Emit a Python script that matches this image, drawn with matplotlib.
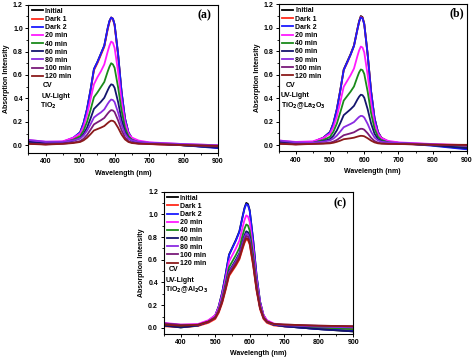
import matplotlib
matplotlib.use("Agg")
import matplotlib.pyplot as plt
import matplotlib.transforms as mtransforms
from matplotlib.ticker import MultipleLocator

plt.rcParams['font.family'] = ['Liberation Sans', 'DejaVu Sans']
plt.rcParams['font.weight'] = 'bold'

# wavelength grid (nm)
wavelength = [350, 400, 450, 480, 500, 510, 520, 530, 540, 550, 560, 570, 580,
              585, 590, 595, 600, 610, 620, 630, 640, 650, 670, 700, 800, 900]

labels = ['Initial', 'Dark 1', 'Dark 2', '20 min', '40 min', '60 min',
          '80 min', '100 min', '120 min']

# panel (a) TiO2
spec_a = [
    [0.03, 0.015, 0.03, 0.06, 0.11, 0.19, 0.31, 0.47, 0.65, 0.71, 0.78, 0.85, 1.00, 1.06, 1.09, 1.08, 1.03, 0.78, 0.46, 0.23, 0.11, 0.06, 0.03, 0.02, 0.0, -0.02],
    [0.015, 0.008, 0.02, 0.055, 0.10, 0.18, 0.30, 0.46, 0.64, 0.70, 0.77, 0.84, 0.99, 1.05, 1.09, 1.08, 1.02, 0.77, 0.45, 0.22, 0.10, 0.05, 0.02, 0.01, 0.0, -0.01],
    [0.035, 0.018, 0.028, 0.065, 0.11, 0.19, 0.31, 0.47, 0.65, 0.71, 0.78, 0.85, 1.00, 1.06, 1.09, 1.08, 1.03, 0.78, 0.46, 0.23, 0.11, 0.06, 0.03, 0.02, 0.0, -0.025],
    [0.045, 0.03, 0.034, 0.064, 0.10, 0.16, 0.26, 0.39, 0.52, 0.58, 0.63, 0.69, 0.80, 0.85, 0.885, 0.875, 0.83, 0.63, 0.38, 0.20, 0.10, 0.065, 0.04, 0.025, 0.01, 0.0],
    [0.02, 0.012, 0.022, 0.046, 0.077, 0.125, 0.20, 0.30, 0.41, 0.45, 0.495, 0.54, 0.63, 0.67, 0.70, 0.69, 0.66, 0.495, 0.30, 0.15, 0.077, 0.046, 0.025, 0.018, 0.0, -0.015],
    [0.03, 0.015, 0.02, 0.038, 0.06, 0.096, 0.15, 0.227, 0.31, 0.34, 0.37, 0.405, 0.47, 0.50, 0.52, 0.515, 0.49, 0.37, 0.22, 0.116, 0.06, 0.038, 0.023, 0.018, 0.0, -0.02],
    [0.045, 0.03, 0.029, 0.041, 0.058, 0.083, 0.124, 0.178, 0.237, 0.26, 0.28, 0.306, 0.354, 0.375, 0.39, 0.386, 0.368, 0.28, 0.175, 0.098, 0.058, 0.041, 0.03, 0.022, 0.01, 0.0],
    [0.015, 0.008, 0.013, 0.023, 0.036, 0.056, 0.088, 0.132, 0.178, 0.196, 0.213, 0.233, 0.271, 0.288, 0.30, 0.297, 0.283, 0.213, 0.129, 0.068, 0.036, 0.023, 0.014, 0.011, 0.0, -0.01],
    [0.012, 0.006, 0.012, 0.019, 0.028, 0.042, 0.064, 0.094, 0.126, 0.138, 0.15, 0.164, 0.19, 0.202, 0.21, 0.208, 0.198, 0.15, 0.092, 0.05, 0.028, 0.019, 0.013, 0.011, 0.002, -0.005],
]

# panel (b) TiO2@La2O3
spec_b = [
    [0.03, 0.015, 0.026, 0.064, 0.113, 0.19, 0.31, 0.47, 0.645, 0.71, 0.775, 0.85, 0.99, 1.057, 1.10, 1.09, 1.035, 0.775, 0.46, 0.232, 0.113, 0.064, 0.03, 0.02, 0.0, -0.03],
    [0.015, 0.008, 0.02, 0.058, 0.107, 0.183, 0.30, 0.465, 0.64, 0.70, 0.77, 0.845, 0.985, 1.05, 1.095, 1.085, 1.03, 0.77, 0.455, 0.227, 0.108, 0.06, 0.026, 0.015, 0.0, -0.01],
    [0.035, 0.018, 0.028, 0.062, 0.11, 0.186, 0.305, 0.465, 0.64, 0.705, 0.77, 0.845, 0.985, 1.05, 1.09, 1.08, 1.03, 0.77, 0.455, 0.23, 0.11, 0.06, 0.03, 0.02, -0.005, -0.035],
    [0.04, 0.028, 0.033, 0.062, 0.098, 0.155, 0.245, 0.367, 0.498, 0.547, 0.596, 0.653, 0.759, 0.807, 0.84, 0.832, 0.791, 0.596, 0.359, 0.188, 0.098, 0.062, 0.037, 0.024, 0.01, 0.0],
    [0.02, 0.012, 0.021, 0.043, 0.072, 0.116, 0.185, 0.28, 0.38, 0.418, 0.456, 0.50, 0.582, 0.62, 0.645, 0.639, 0.607, 0.456, 0.273, 0.141, 0.072, 0.043, 0.024, 0.018, 0.0, -0.02],
    [0.03, 0.015, 0.019, 0.034, 0.052, 0.081, 0.127, 0.189, 0.256, 0.281, 0.306, 0.335, 0.389, 0.413, 0.43, 0.426, 0.405, 0.306, 0.185, 0.098, 0.052, 0.034, 0.021, 0.017, 0.0, -0.025],
    [0.04, 0.025, 0.022, 0.03, 0.041, 0.057, 0.082, 0.117, 0.153, 0.167, 0.181, 0.197, 0.227, 0.241, 0.25, 0.248, 0.236, 0.181, 0.114, 0.066, 0.041, 0.03, 0.023, 0.02, 0.008, -0.005],
    [0.015, 0.008, 0.011, 0.016, 0.022, 0.031, 0.045, 0.065, 0.085, 0.093, 0.101, 0.11, 0.127, 0.135, 0.14, 0.139, 0.132, 0.101, 0.063, 0.036, 0.022, 0.016, 0.012, 0.011, 0.003, 0.0],
    [0.012, 0.006, 0.011, 0.013, 0.016, 0.021, 0.029, 0.039, 0.051, 0.055, 0.059, 0.064, 0.073, 0.077, 0.08, 0.079, 0.076, 0.059, 0.039, 0.024, 0.016, 0.013, 0.011, 0.01, 0.005, 0.003],
]

# panel (c) TiO2@Al2O3
spec_c = [
    [0.025, 0.005, 0.02, 0.06, 0.11, 0.19, 0.31, 0.47, 0.645, 0.71, 0.775, 0.85, 0.99, 1.057, 1.10, 1.09, 1.035, 0.775, 0.46, 0.232, 0.113, 0.064, 0.03, 0.015, -0.01, -0.03],
    [0.015, 0.008, 0.018, 0.045, 0.079, 0.133, 0.218, 0.333, 0.457, 0.503, 0.549, 0.603, 0.703, 0.749, 0.78, 0.772, 0.734, 0.549, 0.326, 0.164, 0.079, 0.045, 0.022, 0.014, 0.0, -0.01],
    [0.03, 0.008, 0.022, 0.062, 0.11, 0.186, 0.305, 0.465, 0.64, 0.705, 0.77, 0.845, 0.985, 1.05, 1.09, 1.08, 1.03, 0.77, 0.455, 0.23, 0.11, 0.06, 0.03, 0.015, -0.01, -0.025],
    [0.045, 0.03, 0.035, 0.068, 0.112, 0.179, 0.286, 0.43, 0.585, 0.643, 0.701, 0.768, 0.894, 0.951, 0.99, 0.98, 0.932, 0.701, 0.421, 0.218, 0.112, 0.068, 0.039, 0.025, 0.015, 0.01],
    [0.025, 0.012, 0.024, 0.055, 0.096, 0.158, 0.257, 0.391, 0.534, 0.588, 0.642, 0.704, 0.821, 0.874, 0.91, 0.901, 0.856, 0.642, 0.382, 0.194, 0.096, 0.055, 0.028, 0.019, 0.005, -0.01],
    [0.02, 0.005, 0.023, 0.053, 0.09, 0.149, 0.24, 0.366, 0.499, 0.549, 0.60, 0.658, 0.767, 0.817, 0.85, 0.842, 0.80, 0.60, 0.357, 0.182, 0.09, 0.053, 0.028, 0.015, -0.01, -0.03],
    [0.04, 0.025, 0.028, 0.056, 0.093, 0.15, 0.239, 0.36, 0.49, 0.538, 0.587, 0.644, 0.749, 0.798, 0.83, 0.822, 0.781, 0.587, 0.352, 0.182, 0.093, 0.056, 0.032, 0.024, 0.012, 0.005],
    [0.04, 0.028, 0.028, 0.056, 0.091, 0.146, 0.233, 0.352, 0.478, 0.526, 0.573, 0.628, 0.731, 0.778, 0.81, 0.802, 0.763, 0.573, 0.344, 0.178, 0.091, 0.056, 0.035, 0.03, 0.02, 0.015],
    [0.03, 0.02, 0.028, 0.055, 0.089, 0.143, 0.228, 0.343, 0.467, 0.513, 0.559, 0.613, 0.713, 0.759, 0.79, 0.782, 0.744, 0.559, 0.336, 0.174, 0.089, 0.055, 0.035, 0.03, 0.02, 0.015],
]

colors = ['#000000', '#ff2a1a', '#1a1aff', '#ff1aff', '#1a8a1a', '#14146e',
          '#8a2be2', '#7a1a7a', '#8b1a1a']

catalysts = ['TiO$_\\mathbf{2}$', 'TiO$_\\mathbf{2}$@La$_\\mathbf{2}$O$_\\mathbf{3}$',
             'TiO$_\\mathbf{2}$@Al$_\\mathbf{2}$O$_\\mathbf{3}$']
panel_tags = ['(a)', '(b)', '(c)']

fig = plt.figure(figsize=(4.74, 3.58), dpi=100)
rects = [[0.060, 0.573, 0.400, 0.414],
         [0.588, 0.578, 0.397, 0.410],
         [0.345, 0.068, 0.400, 0.397]]
ylows = [-0.065, -0.05, -0.05]
tag_pos = [(0.93, 1.105), (0.947, 1.12), (0.93, 1.096)]
txt_x = [(0.078, 0.07, 0.062), (0.040, 0.012, 0.012), (0.03, 0.01, 0.01)]

for k, spectra in enumerate([spec_a, spec_b, spec_c]):
    ax = fig.add_axes(rects[k])
    for vals, lab, col in zip(spectra, labels, colors):
        ax.plot(wavelength, vals, color=col, lw=1.3, label=lab)
    ax.set_xlim(350, 900)
    ax.set_ylim(ylows[k], 1.2)
    ax.xaxis.set_major_locator(MultipleLocator(100))
    ax.xaxis.set_minor_locator(MultipleLocator(50))
    ax.yaxis.set_major_locator(MultipleLocator(0.2))
    ax.yaxis.set_minor_locator(MultipleLocator(0.1))
    ax.tick_params(which='major', direction='out', length=2.5, width=0.7,
                   labelsize=5, pad=1.5)
    ax.tick_params(which='minor', direction='out', length=1.5, width=0.6)
    for lab in ax.get_xticklabels() + ax.get_yticklabels():
        lab.set_fontweight('bold')
    for sp in ax.spines.values():
        sp.set_linewidth(0.8)
    ax.set_xlabel('Wavelength (nm)', fontsize=5, fontweight='bold', labelpad=3)
    ax.set_ylabel('Absorption Intensity', fontsize=5, fontweight='bold', labelpad=2)
    leg = ax.legend(loc='upper left', frameon=False, fontsize=5, handlelength=1.6,
                    handletextpad=0.3, labelspacing=0.17, borderpad=0.35,
                    borderaxespad=0.1)
    for t in leg.get_texts():
        t.set_fontweight('bold')
    trans = mtransforms.blended_transform_factory(ax.transAxes, ax.transData)
    ax.text(txt_x[k][0], 0.51, 'CV', transform=trans, fontsize=5,
            fontweight='bold', va='center')
    ax.text(txt_x[k][1], 0.42, 'UV-Light', transform=trans, fontsize=5,
            fontweight='bold', va='center')
    ax.text(txt_x[k][2], 0.335, catalysts[k], transform=trans, fontsize=5,
            fontweight='bold', va='center')
    ax.text(tag_pos[k][0], tag_pos[k][1], panel_tags[k], transform=trans,
            fontsize=8.5, fontweight='bold', family='Liberation Serif',
            ha='center', va='center')

fig.savefig('out.png', dpi=100)
